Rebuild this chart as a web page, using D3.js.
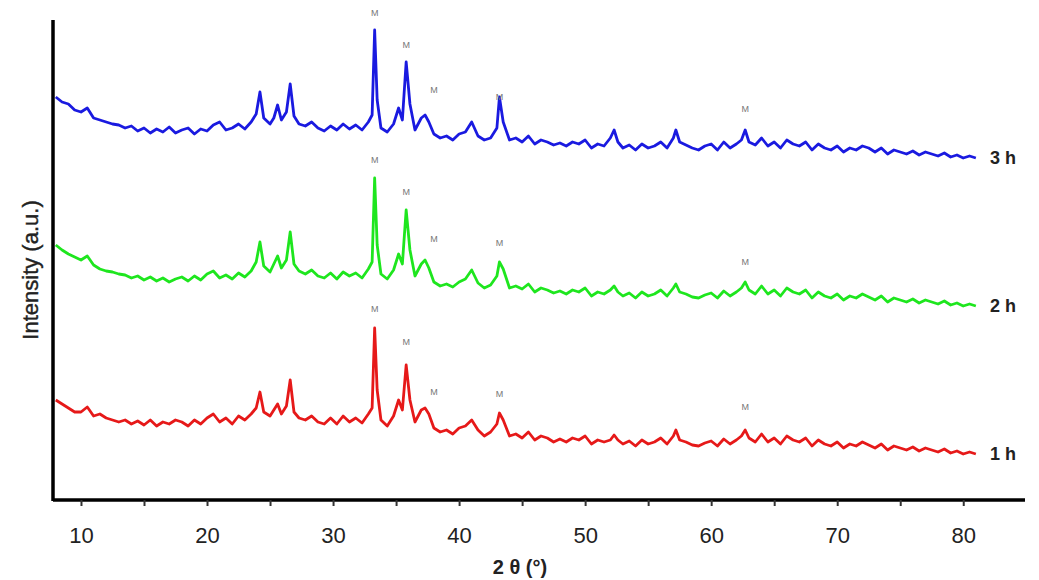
<!DOCTYPE html>
<html><head><meta charset="utf-8">
<script src="https://cdn.jsdelivr.net/npm/d3@7"></script>
<style>body{margin:0;background:#fff}</style>
</head><body>
<svg id="chart" width="1039" height="580"></svg>
<script>
// 2θ positions shared by all three patterns
const twoTheta = [
  8,8.5,9,9.5,10,10.5,11,11.5,12,12.5,
  13,13.5,14,14.5,15,15.5,16,16.5,17,17.5,
  18,18.5,19,19.5,20,20.5,21,21.5,22,22.5,
  23,23.5,23.9,24.2,24.5,25,25.3,25.6,25.9,26.3,
  26.6,26.9,27.3,27.8,28.3,28.8,29.3,29.8,30.3,30.8,
  31.3,31.8,32.3,32.8,33.1,33.3,33.5,33.8,34.3,34.8,
  35.2,35.5,35.8,36.1,36.5,37,37.3,37.6,38,38.5,
  39,39.5,40,40.5,41,41.5,42,42.5,43,43.2,
  43.5,44,44.5,45,45.5,46,46.5,47,47.5,48,
  48.5,49,49.5,50,50.5,51,51.5,52,52.3,52.6,
  53,53.5,54,54.5,55,55.5,56,56.5,57,57.2,
  57.5,58,58.5,59,59.5,60,60.5,61,61.5,62,
  62.4,62.7,63,63.5,64,64.5,65,65.5,66,66.5,
  67,67.5,68,68.5,69,69.5,70,70.5,71,71.5,
  72,72.5,73,73.5,74,74.5,75,75.5,76,76.5,
  77,77.5,78,78.5,79,79.5,80,80.5,81
];

// intensities (a.u., stacked with offsets as in the figure)
const int3h = [
  403,398,396,390,388,392,382,380,378,376,
  375,372,374,369,372,367,371,368,373,367,
  370,372,366,371,369,375,378,370,372,376,
  371,378,386,408,382,376,382,395,380,388,
  416,384,376,374,378,372,369,374,370,376,
  371,375,370,378,385,470,400,372,368,376,
  392,380,438,396,370,382,385,378,366,362,
  364,360,366,368,378,364,360,362,372,403,
  378,360,362,358,364,356,360,358,355,357,
  354,358,356,360,352,356,354,362,370,358,
  352,355,350,356,352,354,358,352,362,370,
  358,355,352,350,354,356,350,358,352,356,
  360,370,358,355,362,354,358,352,360,356,
  354,358,350,356,352,350,354,348,352,350,
  354,352,348,352,346,350,348,346,349,345,
  348,346,344,347,343,345,342,344,342
];
const int2h = [
  255,250,246,243,240,244,235,231,229,228,
  226,225,222,224,220,223,219,222,218,221,
  223,219,224,220,226,229,222,225,221,227,
  223,229,238,258,234,228,236,244,232,240,
  268,236,229,226,230,224,222,227,221,228,
  224,227,222,231,238,322,255,226,221,230,
  246,236,290,250,224,236,240,232,218,214,
  216,213,218,221,230,217,212,215,224,238,
  231,212,214,211,216,208,212,210,207,209,
  206,210,208,212,204,208,206,210,214,208,
  204,207,202,208,204,206,210,204,212,216,
  208,206,203,202,205,207,202,209,204,208,
  212,218,210,206,214,206,210,204,212,208,
  206,210,202,208,204,202,206,200,204,202,
  206,203,200,204,198,202,200,198,201,197,
  200,198,196,199,195,197,194,196,194
];
const int1h = [
  100,96,92,88,88,93,84,86,82,80,
  78,80,76,79,75,80,74,78,76,80,
  78,74,80,76,82,86,78,82,76,84,
  80,86,92,108,88,84,90,96,86,94,
  120,88,82,80,84,78,76,82,76,84,
  78,82,77,86,92,172,110,80,74,84,
  100,90,135,100,78,90,92,86,72,68,
  70,66,72,74,80,70,64,68,76,87,
  80,64,66,62,68,60,64,62,58,61,
  58,62,60,64,56,60,58,60,65,60,
  56,59,54,60,56,58,62,56,64,70,
  60,58,55,54,57,59,54,61,56,60,
  64,70,62,58,66,58,62,56,64,60,
  58,62,54,60,56,54,58,52,56,54,
  58,55,52,56,50,54,52,50,53,49,
  52,50,48,51,47,49,46,48,46
];

// "M" peak markers
const markerTheta = [33.3, 35.8, 38.0, 43.2, 62.7];
const marker3h = [484, 452, 407, 400, 388];
const marker2h = [337, 305, 258, 254, 235];
const marker1h = [188, 155, 105, 103, 90];

const seriesNames = ['1 h', '2 h', '3 h'];
const seriesData = [int1h, int2h, int3h];
const seriesMarkers = [marker1h, marker2h, marker3h];
const seriesColors = ['#e61919', '#1ee61e', '#1a1ae0'];
const xTicks = [10, 15, 20, 25, 30, 35, 40, 45, 50, 55, 60, 65, 70, 75, 80];
const xLabels = [10, 20, 30, 40, 50, 60, 70, 80];

const svg = d3.select('#chart');
const x = d3.scaleLinear().domain([7.78, 84.9]).range([53, 1025]);
const y = d3.scaleLinear().domain([0, 480]).range([500, 20]);

const line = d3.line()
  .x((d, i) => x(twoTheta[i]))
  .y(d => y(d));

seriesData.forEach((vals, k) => {
  svg.append('path')
    .datum(vals)
    .attr('d', line)
    .attr('fill', 'none')
    .attr('stroke', seriesColors[k])
    .attr('stroke-width', 2.8)
    .attr('stroke-linejoin', 'round');

  svg.selectAll('.m' + k)
    .data(seriesMarkers[k])
    .enter().append('text')
    .attr('x', (d, i) => x(markerTheta[i]))
    .attr('y', d => y(d))
    .attr('text-anchor', 'middle')
    .attr('font-family', 'Liberation Sans, Arial, sans-serif')
    .attr('font-size', 9)
    .attr('fill', '#777')
    .text('M');

  // series label at the right end
  const last = vals[vals.length - 1];
  svg.append('text')
    .attr('x', 990)
    .attr('y', y(last) + 6)
    .attr('font-family', 'Liberation Sans, Arial, sans-serif')
    .attr('font-size', 18)
    .attr('font-weight', 'bold')
    .attr('fill', '#222')
    .text(seriesNames[k]);
});

// axes
const xAxis = d3.axisBottom(x).tickValues(xTicks).tickSize(6).tickFormat(d => xLabels.includes(d) ? d : '');
const gx = svg.append('g').attr('transform', 'translate(0,500)').call(xAxis);
gx.select('.domain').attr('stroke-width', 3.5).attr('d', 'M53,0H1025');
gx.selectAll('.tick line').attr('stroke-width', 2).attr('stroke', '#333');
gx.selectAll('.tick text')
  .attr('font-family', 'Liberation Sans, Arial, sans-serif')
  .attr('font-size', 22)
  .attr('fill', '#222')
  .attr('y', 27)
  .attr('dy', '0.71em');

svg.append('line')
  .attr('x1', 53).attr('x2', 53).attr('y1', 20).attr('y2', 501)
  .attr('stroke', '#000').attr('stroke-width', 3.5);

svg.append('text')
  .attr('x', 520).attr('y', 574)
  .attr('text-anchor', 'middle')
  .attr('font-family', 'Liberation Sans, Arial, sans-serif')
  .attr('font-size', 20)
  .attr('font-weight', 'bold')
  .attr('fill', '#222')
  .text('2 θ (°)');

svg.append('text')
  .attr('transform', 'translate(38,270) rotate(-90)')
  .attr('text-anchor', 'middle')
  .attr('font-family', 'Liberation Sans, Arial, sans-serif')
  .attr('font-size', 22)
  .attr('fill', '#222')
  .attr('stroke', '#222')
  .attr('stroke-width', 0.4)
  .text('Intensity (a.u.)');
</script>
</body></html>
